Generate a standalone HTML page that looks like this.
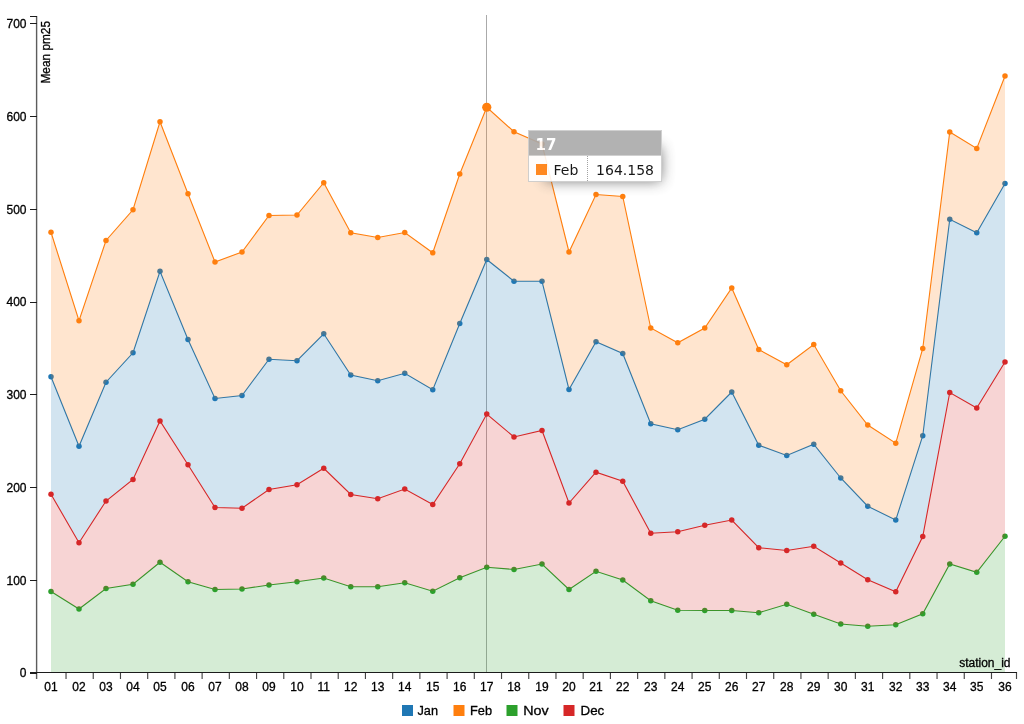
<!DOCTYPE html>
<html><head><meta charset="utf-8"><title>chart</title>
<style>
html,body{margin:0;padding:0;background:#fff;}
body{width:1024px;height:724px;position:relative;overflow:hidden;font-family:"DejaVu Sans","Liberation Sans",sans-serif;}
#tip{position:absolute;left:528px;top:130px;width:134px;height:52px;box-sizing:border-box;background:#fff;opacity:.9;box-shadow:8px 8px 14px -9px #666;border:1px solid #ccc;}
#tip .h{position:absolute;left:0;top:0;right:0;height:24px;background:#aaa;color:#fff;font-weight:bold;font-size:15px;line-height:24px;}
#tip .h span{position:absolute;left:6.6px;top:1.5px;}
#tip .r{position:absolute;left:0;right:0;top:24px;bottom:0;border-top:1px solid #ccc;font-size:14px;color:#000;}
#tip .sq{position:absolute;left:6.6px;top:8px;width:11px;height:11px;background:#ff7f0e;}
#tip .n{position:absolute;left:24.5px;top:1px;line-height:27px;}
#tip .sep{position:absolute;left:58px;top:0;bottom:0;width:0;border-left:1px dotted #999;}
#tip .v{position:absolute;right:7px;top:1px;line-height:27px;}
</style></head><body>
<svg width="1024" height="724" viewBox="0 0 1024 724" style="position:absolute;left:0;top:0;font-family:'Liberation Sans',sans-serif">
<line x1="486.5" y1="15" x2="486.5" y2="672" stroke="#aaa" stroke-width="1" shape-rendering="crispEdges"/>
<polyline points="51,376.75 79,446.25 106,382.25 133,352.75 160,271.25 188,339.5 215,398.5 242,395.5 269,359.25 297,360.75 323.75,333.75 350.75,375 377.75,380.75 404.75,373.25 432.75,389.75 459.75,323.5 486.75,259.5 514,281.25 542,281.25 569,389.5 596,341.75 622.75,353.5 650.75,423.75 677.75,429.75 704.75,419.25 731.75,392 758.75,445.25 786.75,455.5 813.75,444.25 840.75,478 867.75,506.25 895.75,520 922.75,435.75 949.75,219.25 976.75,232.75 1005,183.5" fill="none" stroke="#1f77b4" stroke-width="1.1"/>
<polygon points="51,376.75 79,446.25 106,382.25 133,352.75 160,271.25 188,339.5 215,398.5 242,395.5 269,359.25 297,360.75 323.75,333.75 350.75,375 377.75,380.75 404.75,373.25 432.75,389.75 459.75,323.5 486.75,259.5 514,281.25 542,281.25 569,389.5 596,341.75 622.75,353.5 650.75,423.75 677.75,429.75 704.75,419.25 731.75,392 758.75,445.25 786.75,455.5 813.75,444.25 840.75,478 867.75,506.25 895.75,520 922.75,435.75 949.75,219.25 976.75,232.75 1005,183.5 1005,362 976.75,408 949.75,392.5 922.75,536.5 895.75,591.75 867.75,579.75 840.75,563 813.75,546.25 786.75,550.5 758.75,547.75 731.75,520 704.75,525.25 677.75,531.75 650.75,533.25 622.75,481.25 596,472.25 569,503 542,430.5 514,437 486.75,414 459.75,463.75 432.75,504.5 404.75,489 377.75,498.75 350.75,494.5 323.75,468.25 297,484.75 269,489.5 242,508.25 215,507.5 188,464.75 160,421 133,479.5 106,501 79,542.75 51,494.25" fill="#1f77b4" fill-opacity="0.2"/>
<g fill="#1f77b4"><circle cx="51" cy="376.75" r="2.75"/><circle cx="79" cy="446.25" r="2.75"/><circle cx="106" cy="382.25" r="2.75"/><circle cx="133" cy="352.75" r="2.75"/><circle cx="160" cy="271.25" r="2.75"/><circle cx="188" cy="339.5" r="2.75"/><circle cx="215" cy="398.5" r="2.75"/><circle cx="242" cy="395.5" r="2.75"/><circle cx="269" cy="359.25" r="2.75"/><circle cx="297" cy="360.75" r="2.75"/><circle cx="323.75" cy="333.75" r="2.75"/><circle cx="350.75" cy="375" r="2.75"/><circle cx="377.75" cy="380.75" r="2.75"/><circle cx="404.75" cy="373.25" r="2.75"/><circle cx="432.75" cy="389.75" r="2.75"/><circle cx="459.75" cy="323.5" r="2.75"/><circle cx="486.75" cy="259.5" r="2.75"/><circle cx="514" cy="281.25" r="2.75"/><circle cx="542" cy="281.25" r="2.75"/><circle cx="569" cy="389.5" r="2.75"/><circle cx="596" cy="341.75" r="2.75"/><circle cx="622.75" cy="353.5" r="2.75"/><circle cx="650.75" cy="423.75" r="2.75"/><circle cx="677.75" cy="429.75" r="2.75"/><circle cx="704.75" cy="419.25" r="2.75"/><circle cx="731.75" cy="392" r="2.75"/><circle cx="758.75" cy="445.25" r="2.75"/><circle cx="786.75" cy="455.5" r="2.75"/><circle cx="813.75" cy="444.25" r="2.75"/><circle cx="840.75" cy="478" r="2.75"/><circle cx="867.75" cy="506.25" r="2.75"/><circle cx="895.75" cy="520" r="2.75"/><circle cx="922.75" cy="435.75" r="2.75"/><circle cx="949.75" cy="219.25" r="2.75"/><circle cx="976.75" cy="232.75" r="2.75"/><circle cx="1005" cy="183.5" r="2.75"/></g>
<polyline points="51,232.25 79,320.75 106,240.5 133,209.75 160,121.75 188,193.75 215,262 242,252 269,215.5 297,215 323.75,182.75 350.75,232.75 377.75,237.5 404.75,232.5 432.75,252.75 459.75,174 486.75,107.25 514,131.75 542,144 569,252 596,194.5 622.75,196.5 650.75,328 677.75,342.75 704.75,328 731.75,288 758.75,349.5 786.75,364.75 813.75,344.5 840.75,390.75 867.75,425 895.75,443.25 922.75,348.5 949.75,132 976.75,148.5 1005,76" fill="none" stroke="#ff7f0e" stroke-width="1.1"/>
<polygon points="51,232.25 79,320.75 106,240.5 133,209.75 160,121.75 188,193.75 215,262 242,252 269,215.5 297,215 323.75,182.75 350.75,232.75 377.75,237.5 404.75,232.5 432.75,252.75 459.75,174 486.75,107.25 514,131.75 542,144 569,252 596,194.5 622.75,196.5 650.75,328 677.75,342.75 704.75,328 731.75,288 758.75,349.5 786.75,364.75 813.75,344.5 840.75,390.75 867.75,425 895.75,443.25 922.75,348.5 949.75,132 976.75,148.5 1005,76 1005,183.5 976.75,232.75 949.75,219.25 922.75,435.75 895.75,520 867.75,506.25 840.75,478 813.75,444.25 786.75,455.5 758.75,445.25 731.75,392 704.75,419.25 677.75,429.75 650.75,423.75 622.75,353.5 596,341.75 569,389.5 542,281.25 514,281.25 486.75,259.5 459.75,323.5 432.75,389.75 404.75,373.25 377.75,380.75 350.75,375 323.75,333.75 297,360.75 269,359.25 242,395.5 215,398.5 188,339.5 160,271.25 133,352.75 106,382.25 79,446.25 51,376.75" fill="#ff7f0e" fill-opacity="0.2"/>
<g fill="#ff7f0e"><circle cx="51" cy="232.25" r="2.75"/><circle cx="79" cy="320.75" r="2.75"/><circle cx="106" cy="240.5" r="2.75"/><circle cx="133" cy="209.75" r="2.75"/><circle cx="160" cy="121.75" r="2.75"/><circle cx="188" cy="193.75" r="2.75"/><circle cx="215" cy="262" r="2.75"/><circle cx="242" cy="252" r="2.75"/><circle cx="269" cy="215.5" r="2.75"/><circle cx="297" cy="215" r="2.75"/><circle cx="323.75" cy="182.75" r="2.75"/><circle cx="350.75" cy="232.75" r="2.75"/><circle cx="377.75" cy="237.5" r="2.75"/><circle cx="404.75" cy="232.5" r="2.75"/><circle cx="432.75" cy="252.75" r="2.75"/><circle cx="459.75" cy="174" r="2.75"/><circle cx="486.75" cy="107.25" r="4.6"/><circle cx="514" cy="131.75" r="2.75"/><circle cx="542" cy="144" r="2.75"/><circle cx="569" cy="252" r="2.75"/><circle cx="596" cy="194.5" r="2.75"/><circle cx="622.75" cy="196.5" r="2.75"/><circle cx="650.75" cy="328" r="2.75"/><circle cx="677.75" cy="342.75" r="2.75"/><circle cx="704.75" cy="328" r="2.75"/><circle cx="731.75" cy="288" r="2.75"/><circle cx="758.75" cy="349.5" r="2.75"/><circle cx="786.75" cy="364.75" r="2.75"/><circle cx="813.75" cy="344.5" r="2.75"/><circle cx="840.75" cy="390.75" r="2.75"/><circle cx="867.75" cy="425" r="2.75"/><circle cx="895.75" cy="443.25" r="2.75"/><circle cx="922.75" cy="348.5" r="2.75"/><circle cx="949.75" cy="132" r="2.75"/><circle cx="976.75" cy="148.5" r="2.75"/><circle cx="1005" cy="76" r="2.75"/></g>
<polyline points="51,591.5 79,609 106,588.5 133,584.25 160,562.25 188,581.75 215,589.5 242,589 269,585 297,581.75 323.75,578 350.75,586.75 377.75,586.75 404.75,582.75 432.75,591.25 459.75,577.75 486.75,567.25 514,569.5 542,564 569,589.5 596,571.25 622.75,580 650.75,600.75 677.75,610.25 704.75,610.5 731.75,610.5 758.75,612.75 786.75,604.25 813.75,614.25 840.75,624 867.75,626.25 895.75,624.75 922.75,613.75 949.75,564 976.75,572.25 1005,536.25" fill="none" stroke="#2ca02c" stroke-width="1.1"/>
<polygon points="51,591.5 79,609 106,588.5 133,584.25 160,562.25 188,581.75 215,589.5 242,589 269,585 297,581.75 323.75,578 350.75,586.75 377.75,586.75 404.75,582.75 432.75,591.25 459.75,577.75 486.75,567.25 514,569.5 542,564 569,589.5 596,571.25 622.75,580 650.75,600.75 677.75,610.25 704.75,610.5 731.75,610.5 758.75,612.75 786.75,604.25 813.75,614.25 840.75,624 867.75,626.25 895.75,624.75 922.75,613.75 949.75,564 976.75,572.25 1005,536.25 1005,672.5 976.75,672.5 949.75,672.5 922.75,672.5 895.75,672.5 867.75,672.5 840.75,672.5 813.75,672.5 786.75,672.5 758.75,672.5 731.75,672.5 704.75,672.5 677.75,672.5 650.75,672.5 622.75,672.5 596,672.5 569,672.5 542,672.5 514,672.5 486.75,672.5 459.75,672.5 432.75,672.5 404.75,672.5 377.75,672.5 350.75,672.5 323.75,672.5 297,672.5 269,672.5 242,672.5 215,672.5 188,672.5 160,672.5 133,672.5 106,672.5 79,672.5 51,672.5" fill="#2ca02c" fill-opacity="0.2"/>
<g fill="#2ca02c"><circle cx="51" cy="591.5" r="2.75"/><circle cx="79" cy="609" r="2.75"/><circle cx="106" cy="588.5" r="2.75"/><circle cx="133" cy="584.25" r="2.75"/><circle cx="160" cy="562.25" r="2.75"/><circle cx="188" cy="581.75" r="2.75"/><circle cx="215" cy="589.5" r="2.75"/><circle cx="242" cy="589" r="2.75"/><circle cx="269" cy="585" r="2.75"/><circle cx="297" cy="581.75" r="2.75"/><circle cx="323.75" cy="578" r="2.75"/><circle cx="350.75" cy="586.75" r="2.75"/><circle cx="377.75" cy="586.75" r="2.75"/><circle cx="404.75" cy="582.75" r="2.75"/><circle cx="432.75" cy="591.25" r="2.75"/><circle cx="459.75" cy="577.75" r="2.75"/><circle cx="486.75" cy="567.25" r="2.75"/><circle cx="514" cy="569.5" r="2.75"/><circle cx="542" cy="564" r="2.75"/><circle cx="569" cy="589.5" r="2.75"/><circle cx="596" cy="571.25" r="2.75"/><circle cx="622.75" cy="580" r="2.75"/><circle cx="650.75" cy="600.75" r="2.75"/><circle cx="677.75" cy="610.25" r="2.75"/><circle cx="704.75" cy="610.5" r="2.75"/><circle cx="731.75" cy="610.5" r="2.75"/><circle cx="758.75" cy="612.75" r="2.75"/><circle cx="786.75" cy="604.25" r="2.75"/><circle cx="813.75" cy="614.25" r="2.75"/><circle cx="840.75" cy="624" r="2.75"/><circle cx="867.75" cy="626.25" r="2.75"/><circle cx="895.75" cy="624.75" r="2.75"/><circle cx="922.75" cy="613.75" r="2.75"/><circle cx="949.75" cy="564" r="2.75"/><circle cx="976.75" cy="572.25" r="2.75"/><circle cx="1005" cy="536.25" r="2.75"/></g>
<polyline points="51,494.25 79,542.75 106,501 133,479.5 160,421 188,464.75 215,507.5 242,508.25 269,489.5 297,484.75 323.75,468.25 350.75,494.5 377.75,498.75 404.75,489 432.75,504.5 459.75,463.75 486.75,414 514,437 542,430.5 569,503 596,472.25 622.75,481.25 650.75,533.25 677.75,531.75 704.75,525.25 731.75,520 758.75,547.75 786.75,550.5 813.75,546.25 840.75,563 867.75,579.75 895.75,591.75 922.75,536.5 949.75,392.5 976.75,408 1005,362" fill="none" stroke="#d62728" stroke-width="1.1"/>
<polygon points="51,494.25 79,542.75 106,501 133,479.5 160,421 188,464.75 215,507.5 242,508.25 269,489.5 297,484.75 323.75,468.25 350.75,494.5 377.75,498.75 404.75,489 432.75,504.5 459.75,463.75 486.75,414 514,437 542,430.5 569,503 596,472.25 622.75,481.25 650.75,533.25 677.75,531.75 704.75,525.25 731.75,520 758.75,547.75 786.75,550.5 813.75,546.25 840.75,563 867.75,579.75 895.75,591.75 922.75,536.5 949.75,392.5 976.75,408 1005,362 1005,536.25 976.75,572.25 949.75,564 922.75,613.75 895.75,624.75 867.75,626.25 840.75,624 813.75,614.25 786.75,604.25 758.75,612.75 731.75,610.5 704.75,610.5 677.75,610.25 650.75,600.75 622.75,580 596,571.25 569,589.5 542,564 514,569.5 486.75,567.25 459.75,577.75 432.75,591.25 404.75,582.75 377.75,586.75 350.75,586.75 323.75,578 297,581.75 269,585 242,589 215,589.5 188,581.75 160,562.25 133,584.25 106,588.5 79,609 51,591.5" fill="#d62728" fill-opacity="0.2"/>
<g fill="#d62728"><circle cx="51" cy="494.25" r="2.75"/><circle cx="79" cy="542.75" r="2.75"/><circle cx="106" cy="501" r="2.75"/><circle cx="133" cy="479.5" r="2.75"/><circle cx="160" cy="421" r="2.75"/><circle cx="188" cy="464.75" r="2.75"/><circle cx="215" cy="507.5" r="2.75"/><circle cx="242" cy="508.25" r="2.75"/><circle cx="269" cy="489.5" r="2.75"/><circle cx="297" cy="484.75" r="2.75"/><circle cx="323.75" cy="468.25" r="2.75"/><circle cx="350.75" cy="494.5" r="2.75"/><circle cx="377.75" cy="498.75" r="2.75"/><circle cx="404.75" cy="489" r="2.75"/><circle cx="432.75" cy="504.5" r="2.75"/><circle cx="459.75" cy="463.75" r="2.75"/><circle cx="486.75" cy="414" r="2.75"/><circle cx="514" cy="437" r="2.75"/><circle cx="542" cy="430.5" r="2.75"/><circle cx="569" cy="503" r="2.75"/><circle cx="596" cy="472.25" r="2.75"/><circle cx="622.75" cy="481.25" r="2.75"/><circle cx="650.75" cy="533.25" r="2.75"/><circle cx="677.75" cy="531.75" r="2.75"/><circle cx="704.75" cy="525.25" r="2.75"/><circle cx="731.75" cy="520" r="2.75"/><circle cx="758.75" cy="547.75" r="2.75"/><circle cx="786.75" cy="550.5" r="2.75"/><circle cx="813.75" cy="546.25" r="2.75"/><circle cx="840.75" cy="563" r="2.75"/><circle cx="867.75" cy="579.75" r="2.75"/><circle cx="895.75" cy="591.75" r="2.75"/><circle cx="922.75" cy="536.5" r="2.75"/><circle cx="949.75" cy="392.5" r="2.75"/><circle cx="976.75" cy="408" r="2.75"/><circle cx="1005" cy="362" r="2.75"/></g>
<path d="M36.6,16V679" fill="none" stroke="#5c5c5c" stroke-width="1.4"/>
<g fill="none" stroke="#444" stroke-width="1.15">
<path d="M1016.5,672V679"/>
<line x1="66.03" x2="66.03" y1="673" y2="679"/>
<line x1="93.25" x2="93.25" y1="673" y2="679"/>
<line x1="120.47" x2="120.47" y1="673" y2="679"/>
<line x1="147.69" x2="147.69" y1="673" y2="679"/>
<line x1="174.91" x2="174.91" y1="673" y2="679"/>
<line x1="202.12" x2="202.12" y1="673" y2="679"/>
<line x1="229.34" x2="229.34" y1="673" y2="679"/>
<line x1="256.56" x2="256.56" y1="673" y2="679"/>
<line x1="283.78" x2="283.78" y1="673" y2="679"/>
<line x1="311" x2="311" y1="673" y2="679"/>
<line x1="338.22" x2="338.22" y1="673" y2="679"/>
<line x1="365.44" x2="365.44" y1="673" y2="679"/>
<line x1="392.66" x2="392.66" y1="673" y2="679"/>
<line x1="419.88" x2="419.88" y1="673" y2="679"/>
<line x1="447.1" x2="447.1" y1="673" y2="679"/>
<line x1="474.31" x2="474.31" y1="673" y2="679"/>
<line x1="501.53" x2="501.53" y1="673" y2="679"/>
<line x1="528.75" x2="528.75" y1="673" y2="679"/>
<line x1="555.97" x2="555.97" y1="673" y2="679"/>
<line x1="583.19" x2="583.19" y1="673" y2="679"/>
<line x1="610.41" x2="610.41" y1="673" y2="679"/>
<line x1="637.63" x2="637.63" y1="673" y2="679"/>
<line x1="664.85" x2="664.85" y1="673" y2="679"/>
<line x1="692.07" x2="692.07" y1="673" y2="679"/>
<line x1="719.29" x2="719.29" y1="673" y2="679"/>
<line x1="746.5" x2="746.5" y1="673" y2="679"/>
<line x1="773.72" x2="773.72" y1="673" y2="679"/>
<line x1="800.94" x2="800.94" y1="673" y2="679"/>
<line x1="828.16" x2="828.16" y1="673" y2="679"/>
<line x1="855.38" x2="855.38" y1="673" y2="679"/>
<line x1="882.6" x2="882.6" y1="673" y2="679"/>
<line x1="909.82" x2="909.82" y1="673" y2="679"/>
<line x1="937.04" x2="937.04" y1="673" y2="679"/>
<line x1="964.26" x2="964.26" y1="673" y2="679"/>
<line x1="991.48" x2="991.48" y1="673" y2="679"/>
</g>
<g fill="none" stroke="#1c1c1c" stroke-width="1" shape-rendering="crispEdges">
<path d="M30,16.2H36.8"/>
<path d="M30,673.5H37"/>
<path d="M30,672.5H1017"/>
<line x1="30" x2="37" y1="580.5" y2="580.5"/>
<line x1="30" x2="37" y1="487.5" y2="487.5"/>
<line x1="30" x2="37" y1="394.5" y2="394.5"/>
<line x1="30" x2="37" y1="302.5" y2="302.5"/>
<line x1="30" x2="37" y1="209.5" y2="209.5"/>
<line x1="30" x2="37" y1="116.5" y2="116.5"/>
<line x1="30" x2="37" y1="23.5" y2="23.5"/>
</g>
<g font-size="12px" fill="#000" stroke="#000" stroke-width="0.3">
<text x="26.5" y="677.3" text-anchor="end">0</text>
<text x="26.5" y="584.55" text-anchor="end">100</text>
<text x="26.5" y="491.8" text-anchor="end">200</text>
<text x="26.5" y="399.05" text-anchor="end">300</text>
<text x="26.5" y="306.3" text-anchor="end">400</text>
<text x="26.5" y="213.55" text-anchor="end">500</text>
<text x="26.5" y="120.8" text-anchor="end">600</text>
<text x="26.5" y="28.05" text-anchor="end">700</text>
<text x="51" y="691" text-anchor="middle">01</text>
<text x="79" y="691" text-anchor="middle">02</text>
<text x="106" y="691" text-anchor="middle">03</text>
<text x="133" y="691" text-anchor="middle">04</text>
<text x="160" y="691" text-anchor="middle">05</text>
<text x="188" y="691" text-anchor="middle">06</text>
<text x="215" y="691" text-anchor="middle">07</text>
<text x="242" y="691" text-anchor="middle">08</text>
<text x="269" y="691" text-anchor="middle">09</text>
<text x="297" y="691" text-anchor="middle">10</text>
<text x="323.75" y="691" text-anchor="middle">11</text>
<text x="350.75" y="691" text-anchor="middle">12</text>
<text x="377.75" y="691" text-anchor="middle">13</text>
<text x="404.75" y="691" text-anchor="middle">14</text>
<text x="432.75" y="691" text-anchor="middle">15</text>
<text x="459.75" y="691" text-anchor="middle">16</text>
<text x="486.75" y="691" text-anchor="middle">17</text>
<text x="514" y="691" text-anchor="middle">18</text>
<text x="542" y="691" text-anchor="middle">19</text>
<text x="569" y="691" text-anchor="middle">20</text>
<text x="596" y="691" text-anchor="middle">21</text>
<text x="622.75" y="691" text-anchor="middle">22</text>
<text x="650.75" y="691" text-anchor="middle">23</text>
<text x="677.75" y="691" text-anchor="middle">24</text>
<text x="704.75" y="691" text-anchor="middle">25</text>
<text x="731.75" y="691" text-anchor="middle">26</text>
<text x="758.75" y="691" text-anchor="middle">27</text>
<text x="786.75" y="691" text-anchor="middle">28</text>
<text x="813.75" y="691" text-anchor="middle">29</text>
<text x="840.75" y="691" text-anchor="middle">30</text>
<text x="867.75" y="691" text-anchor="middle">31</text>
<text x="895.75" y="691" text-anchor="middle">32</text>
<text x="922.75" y="691" text-anchor="middle">33</text>
<text x="949.75" y="691" text-anchor="middle">34</text>
<text x="976.75" y="691" text-anchor="middle">35</text>
<text x="1005" y="691" text-anchor="middle">36</text>
<text transform="translate(50.0,21) rotate(-90)" text-anchor="end" font-size="12.5px" textLength="62.5" lengthAdjust="spacingAndGlyphs">Mean pm25</text>
<text x="1010.5" y="667" text-anchor="end">station_id</text>
</g>
<g font-size="13px" fill="#000" stroke="#000" stroke-width="0.3">
<rect x="402" y="705" width="11" height="11" fill="#1f77b4" stroke="none"/>
<text x="417.5" y="715" textLength="20.5" lengthAdjust="spacingAndGlyphs">Jan</text>
<rect x="453.5" y="705" width="11" height="11" fill="#ff7f0e" stroke="none"/>
<text x="470" y="715" textLength="22" lengthAdjust="spacingAndGlyphs">Feb</text>
<rect x="506.5" y="705" width="11" height="11" fill="#2ca02c" stroke="none"/>
<text x="523.25" y="715" textLength="25.5" lengthAdjust="spacingAndGlyphs">Nov</text>
<rect x="563.5" y="705" width="11" height="11" fill="#d62728" stroke="none"/>
<text x="580.5" y="715" textLength="23.75" lengthAdjust="spacingAndGlyphs">Dec</text>
</g>
</svg>
<div id="tip"><div class="h"><span>17</span></div><div class="r"><i class="sq"></i><span class="n">Feb</span><i class="sep"></i><span class="v">164.158</span></div></div>
</body></html>
